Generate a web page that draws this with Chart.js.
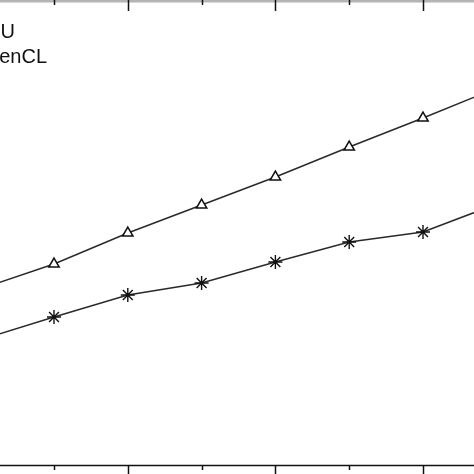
<!DOCTYPE html>
<html>
<head>
<meta charset="utf-8">
<script src="https://cdn.jsdelivr.net/npm/chart.js@4/dist/chart.umd.min.js"></script>
<style>
html,body{margin:0;padding:0;background:#fff;}
#wrap{width:474px;height:474px;}
</style>
</head>
<body>
<div id="wrap"><canvas id="c" width="474" height="474"></canvas></div>
<script>
// x positions (point index); 0 and 7 lie just outside the visible crop
const xValues = [0, 1, 2, 3, 4, 5, 6, 7];
const cpuValues    = [18.5, 21.0, 24.1, 26.9, 29.7, 32.7, 35.6, 38.6];
const openclValues = [13.4, 15.7, 17.9, 19.1, 21.2, 23.2, 24.2, 27.0];
const seriesNames = ["CPU", "OpenCL"];
const tickValues = [1, 2, 3, 4, 5, 6];
const majorTicks = [2, 4, 6];

const axisPlugin = {
  id: 'framePlugin',
  afterDraw(chart) {
    const ctx = chart.ctx;
    const xs = chart.scales.x;
    ctx.save();
    // top (gray) axis line of panel above
    ctx.strokeStyle = '#b4b4b4';
    ctx.lineWidth = 3;
    ctx.beginPath(); ctx.moveTo(0, 1); ctx.lineTo(474, 1); ctx.stroke();
    // bottom axis line
    ctx.strokeStyle = '#111';
    ctx.lineWidth = 1.5;
    ctx.beginPath(); ctx.moveTo(0, 465.5); ctx.lineTo(474, 465.5); ctx.stroke();
    ctx.lineWidth = 1.5;
    tickValues.forEach(v => {
      const px = Math.round(xs.getPixelForValue(v)) + 0.5;
      const major = majorTicks.includes(v);
      ctx.beginPath();
      ctx.moveTo(px, 0); ctx.lineTo(px, major ? 11 : 5);
      ctx.moveTo(px, 465); ctx.lineTo(px, major ? 474 : 470);
      ctx.stroke();
    });
    // legend labels (partially cut off at left, as in the crop)
    ctx.fillStyle = '#111';
    ctx.font = '20px "Liberation Sans", Arial, sans-serif';
    ctx.textAlign = 'right';
    ctx.textBaseline = 'alphabetic';
    ctx.fillText(seriesNames[0], 15, 38);
    ctx.fillText(seriesNames[1], 47, 63);
    ctx.restore();
  }
};

new Chart(document.getElementById('c'), {
  type: 'line',
  data: {
    datasets: [
      {
        label: seriesNames[0],
        data: xValues.map((x, i) => ({x, y: cpuValues[i]})),
        borderColor: '#2a2a2a',
        borderWidth: 1.5,
        pointStyle: 'triangle',
        pointRadius: 6,
        pointBackgroundColor: '#fff',
        pointBorderColor: '#111',
        pointBorderWidth: 1.5,
        tension: 0
      },
      {
        label: seriesNames[1],
        data: xValues.map((x, i) => ({x, y: openclValues[i]})),
        borderColor: '#2a2a2a',
        borderWidth: 1.5,
        pointStyle: 'star',
        pointRadius: 7,
        pointBackgroundColor: '#fff',
        pointBorderColor: '#111',
        pointBorderWidth: 1.4,
        tension: 0
      }
    ]
  },
  options: {
    responsive: false,
    animation: false,
    devicePixelRatio: 1,
    layout: { padding: 0, autoPadding: false },
    plugins: { legend: { display: false }, tooltip: { enabled: false } },
    scales: {
      x: { type: 'linear', display: false, min: 1 - 54 / 73.8, max: 1 + 420 / 73.8 },
      y: { type: 'linear', display: false, min: 0, max: 47.4 }
    }
  },
  plugins: [axisPlugin]
});
</script>
</body>
</html>
